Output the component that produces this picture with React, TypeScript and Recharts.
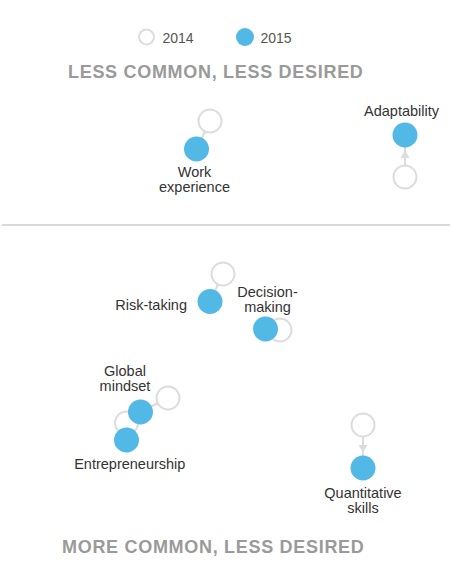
import React from "react";
import { ScatterChart, Scatter, XAxis, YAxis, ReferenceLine } from "recharts";

// skills, positions in 2014 and 2015 (x: desirability, y: commonness, 0 = divider)
const skills = [
  "Work experience",
  "Adaptability",
  "Risk-taking",
  "Decision-making",
  "Global mindset",
  "Entrepreneurship",
  "Quantitative skills",
];
const x2014 = [-3.2, 35.8, -0.6, 10.8, -11.6, -19.9, 27.4];
const y2014 = [20.8, 9.6, -9.8, -21, -34.6, -39.6, -40];
const x2015 = [-5.9, 35.8, -3.2, 7.9, -17.1, -19.9, 27.4];
const y2015 = [15.2, 18, -15.3, -20.8, -37.4, -43, -48.6];
const labelLines = [
  ["Work", "experience"],
  ["Adaptability"],
  ["Risk-taking"],
  ["Decision-", "making"],
  ["Global", "mindset"],
  ["Entrepreneurship"],
  ["Quantitative", "skills"],
];
const years = ["2014", "2015"];
const titleTop = "LESS COMMON, LESS DESIRED";
const titleBottom = "MORE COMMON, LESS DESIRED";

// where each label sits around its 2015 dot (pixels)
const labelPlace: Record<string, { dx: number; dy: number; anchor: string }> = {
  "Work experience": { dx: -2, dy: 28, anchor: "middle" },
  Adaptability: { dx: -3.5, dy: -19.5, anchor: "middle" },
  "Risk-taking": { dx: -23, dy: 8, anchor: "end" },
  "Decision-making": { dx: 2, dy: -32, anchor: "middle" },
  "Global mindset": { dx: -15.5, dy: -36.5, anchor: "middle" },
  Entrepreneurship: { dx: 3.3, dy: 29, anchor: "middle" },
  "Quantitative skills": { dx: 0, dy: 30, anchor: "middle" },
};

const BLUE = "#52b9e6";
const GREY = "#dddddd";
const FONT = '"Liberation Sans", Arial, Helvetica, sans-serif';

const old = skills.map((name, i) => ({ name, x: x2014[i], y: y2014[i] }));
const now = skills.map((name, i) => ({ name, x: x2015[i], y: y2015[i], lines: labelLines[i] }));

const Nothing = () => <g />;

const HollowDot = (props: any) => (
  <circle cx={props.cx} cy={props.cy} r={11.5} fill="#fff" stroke={GREY} strokeWidth={2} />
);

const FilledDot = (props: any) => {
  const { cx, cy, payload } = props;
  const p = labelPlace[payload.name];
  return (
    <g>
      <circle cx={cx} cy={cy} r={12.5} fill={BLUE} />
      <text
        x={cx + p.dx}
        y={cy + p.dy}
        textAnchor={p.anchor}
        fontSize={14.5}
        fill="#333"
        fontFamily={FONT}
      >
        {payload.lines.map((l: string, k: number) => (
          <tspan key={k} x={cx + p.dx} dy={k === 0 ? 0 : 15}>
            {l}
          </tspan>
        ))}
      </text>
    </g>
  );
};

export default function App() {
  return (
    <div
      style={{
        position: "absolute",
        left: 0,
        top: 0,
        width: 451,
        height: 568,
        background: "#fff",
        fontFamily: FONT,
      }}
    >
      <svg width={0} height={0} style={{ position: "absolute" }}>
        <defs>
          <marker
            id="arrowHead"
            markerUnits="userSpaceOnUse"
            markerWidth={30}
            markerHeight={10}
            refX={23}
            refY={4.5}
            orient="auto"
          >
            <path d="M0,0 L8,4.5 L0,9 Z" fill={GREY} />
          </marker>
        </defs>
      </svg>
      <ScatterChart width={451} height={568} margin={{ top: 25, right: 1, bottom: 43, left: 2 }}>
        <XAxis type="number" dataKey="x" domain={[-44.8, 44.8]} hide />
        <YAxis type="number" dataKey="y" domain={[-60, 40]} hide />
        <ReferenceLine y={0} stroke="#cccccc" strokeWidth={1.5} />
        {skills.map((name, i) => (
          <Scatter
            key={name}
            data={[old[i], now[i]]}
            line={{ stroke: GREY, strokeWidth: 2, markerEnd: "url(#arrowHead)" }}
            shape={Nothing}
            legendType="none"
            isAnimationActive={false}
          />
        ))}
        <Scatter name={years[0]} data={old} shape={HollowDot} isAnimationActive={false} />
        <Scatter name={years[1]} data={now} shape={FilledDot} isAnimationActive={false} />
      </ScatterChart>
      <svg width={451} height={568} style={{ position: "absolute", left: 0, top: 0, pointerEvents: "none" }}>
        <circle cx={146.5} cy={37} r={7.5} fill="#fff" stroke={GREY} strokeWidth={2} />
        <text x={162.5} y={42.7} fontSize={14} fill="#555" fontFamily={FONT}>
          {years[0]}
        </text>
        <circle cx={245} cy={37} r={9} fill={BLUE} />
        <text x={260.5} y={42.7} fontSize={14} fill="#555" fontFamily={FONT}>
          {years[1]}
        </text>
        <text
          x={68}
          y={78}
          fontSize={18}
          fontWeight="bold"
          letterSpacing={0.7}
          fill="#9a9a9a"
          fontFamily={FONT}
        >
          {titleTop}
        </text>
        <text
          x={62}
          y={553}
          fontSize={18}
          fontWeight="bold"
          letterSpacing={0.7}
          fill="#9a9a9a"
          fontFamily={FONT}
        >
          {titleBottom}
        </text>
      </svg>
    </div>
  );
}
